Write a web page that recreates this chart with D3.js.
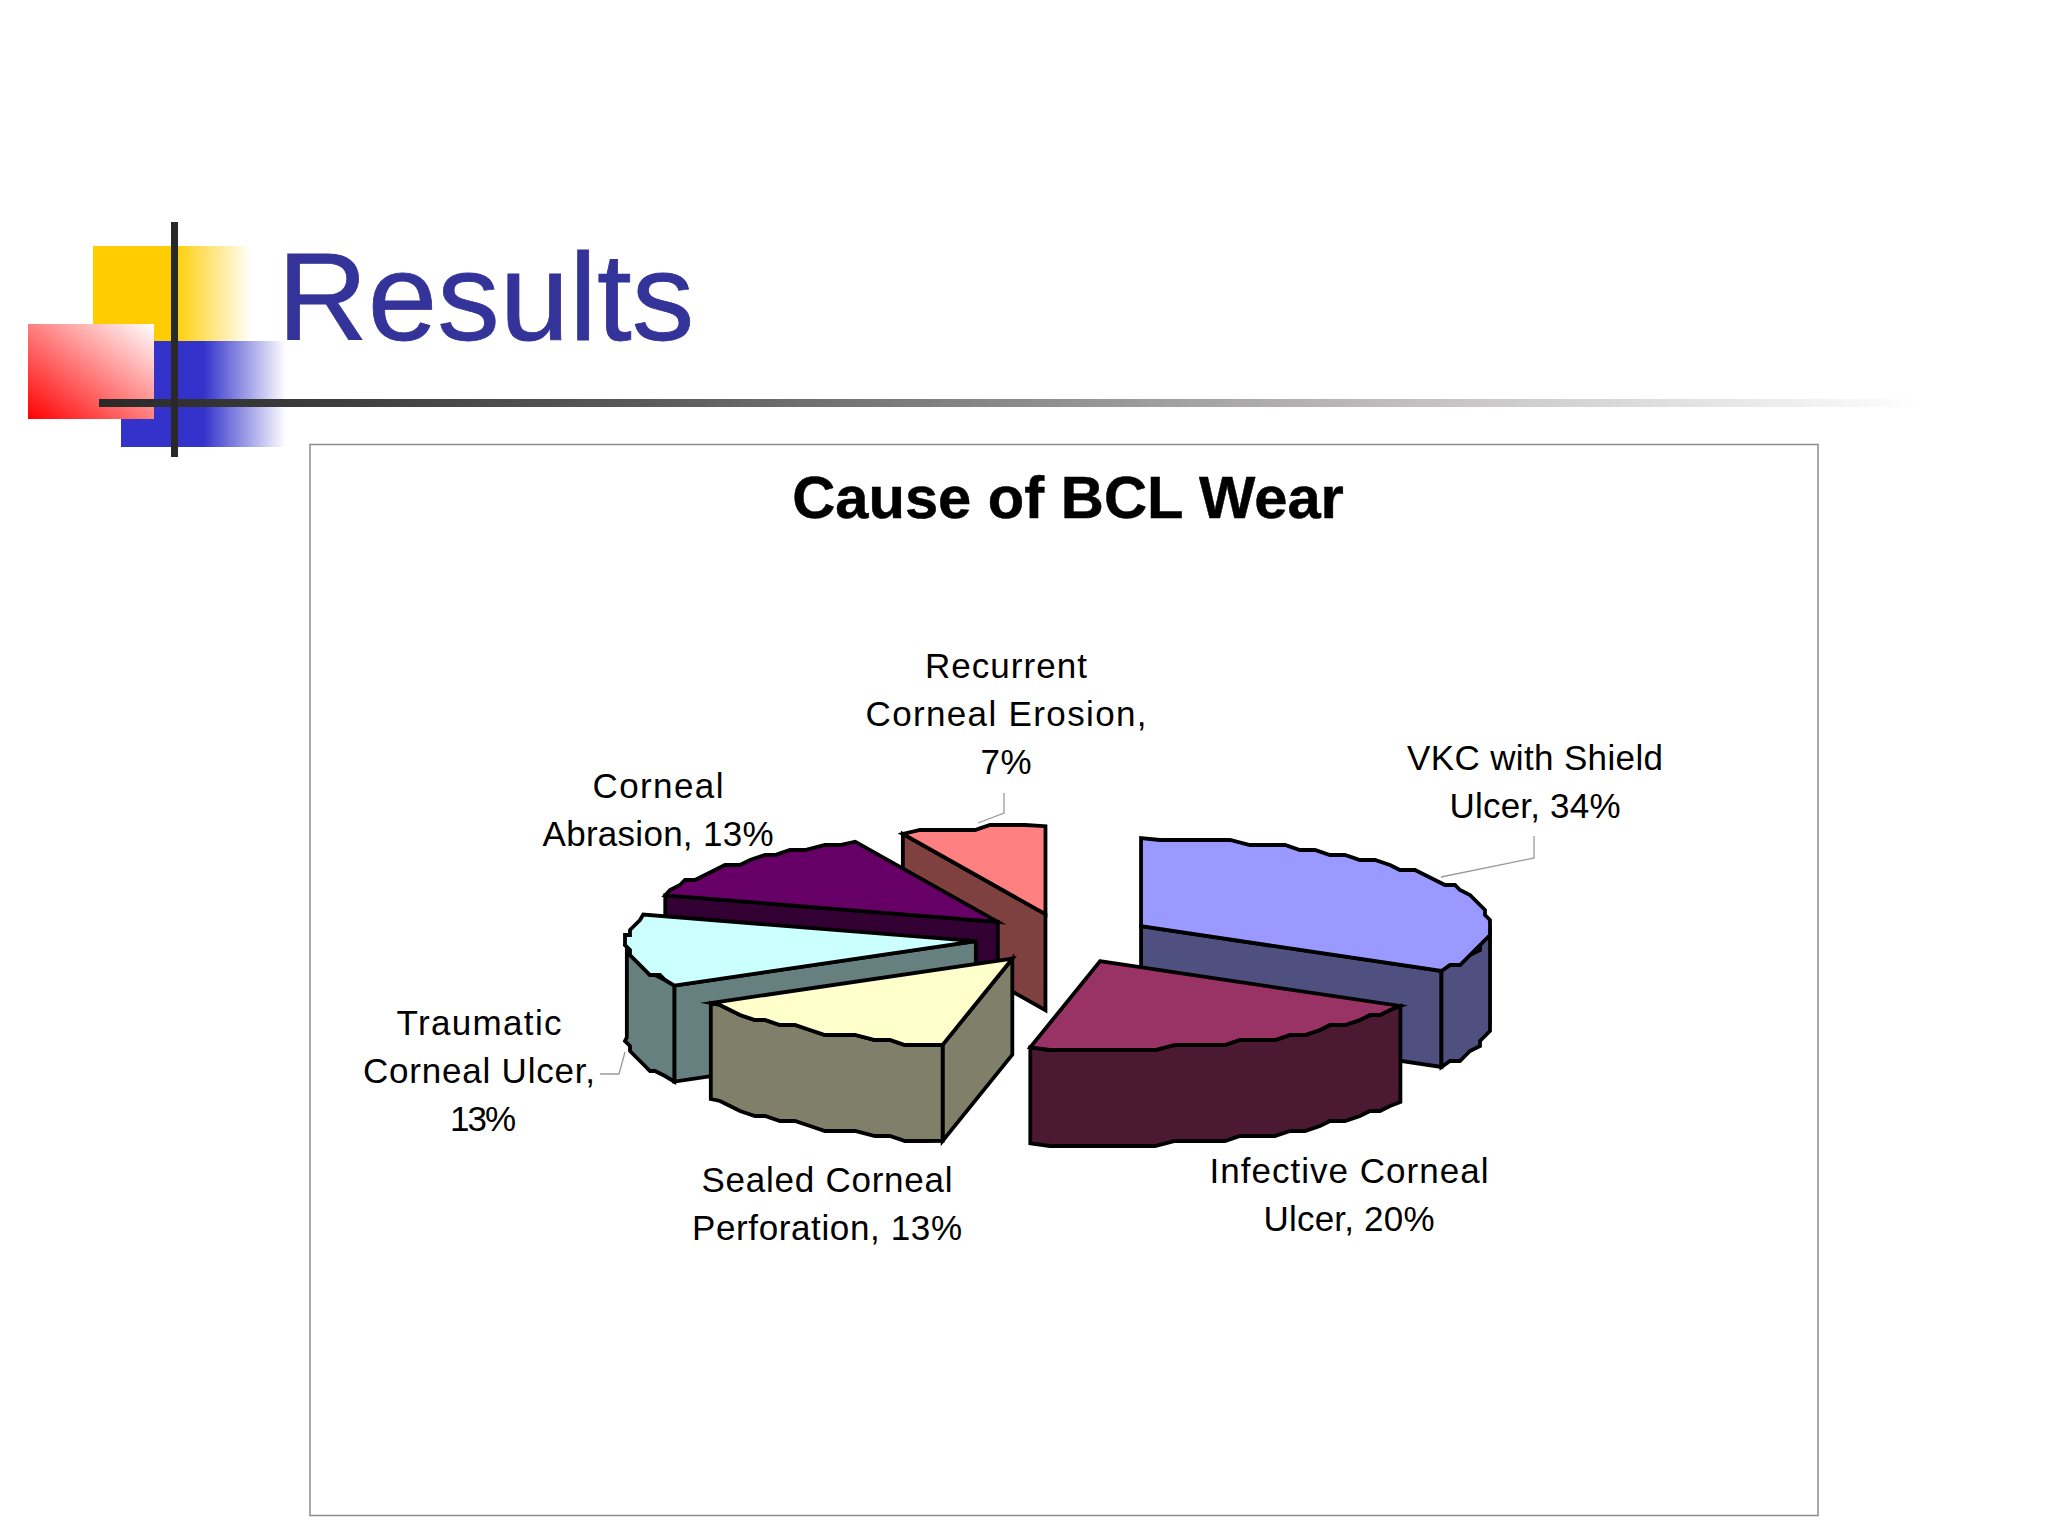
<!DOCTYPE html>
<html><head><meta charset="utf-8">
<style>html,body{margin:0;background:#fff}svg{display:block}text{font-family:"Liberation Sans",Arial,sans-serif}</style>
<script src="https://cdn.jsdelivr.net/npm/d3@7"></script></head>
<body><svg id="c" width="2048" height="1536"></svg>
<script>
// ---------- data ----------
const categories = ["VKC with Shield Ulcer","Infective Corneal Ulcer","Sealed Corneal Perforation","Traumatic Corneal Ulcer","Corneal Abrasion","Recurrent Corneal Erosion"];
const values = [33.5,19.7,13.4,13.3,13.4,6.7];
const labelLines = [["VKC with Shield","Ulcer, 34%"],["Infective Corneal","Ulcer, 20%"],["Sealed Corneal","Perforation, 13%"],["Traumatic","Corneal Ulcer,","13%"],["Corneal","Abrasion, 13%"],["Recurrent","Corneal Erosion,","7%"]];
const slideTitle = "Results";
const chartTitle = "Cause of BCL Wear";
// ---------- styling / layout ----------
const topColors  = ["#9999FF","#993366","#FFFFCC","#CCFFFF","#660066","#FF8080"];
const wallColors = ["#4F4F80","#4C1933","#80806A","#667F7F","#330033","#7F4040"];
const labelPos = [[1535,770],[1349,1183],[827,1191.5],[479,1035],[658,798],[1006,677.5]];
const labelWidths = [[256,171],[279,171],[251,270],[165,232,66],[131,231],[162,281,51]];
const leaders = [[[1534,836],[1534,858],[1441,877]],[],[],[[600,1074],[619,1074],[625,1052]],[],[[1004,793],[1004,813],[978,823]]];
const paintOrder = [5,4,0,3,1,2];
const cx=1064, cy=938.5, rx=349, ry=88, depth=96, explode=88.7, explodeK=0.28;

const svg=d3.select("#c"), defs=svg.append("defs");
function grad(id,x1,y1,x2,y2,stops){
  const g=defs.append("linearGradient").attr("id",id).attr("x1",x1).attr("y1",y1).attr("x2",x2).attr("y2",y2);
  stops.forEach(s=>g.append("stop").attr("offset",s[0]).attr("stop-color",s[1]));
}
grad("gy",0,0,1,0,[[0,"#FFCC00"],[.5,"#FFCC00"],[1,"#FFFFFF"]]);
grad("gb",0,0,1,0,[[0,"#3333CC"],[.5,"#3333CC"],[1,"#FFFFFF"]]);
grad("gr",0,1,1,0,[[0,"#FF0000"],[1,"#FFFFFF"]]);
grad("gl",0,0,1,0,[[0,"#292929"],[.3,"#5a5a5a"],[.7,"#bdbbbb"],[1,"#FFFFFF"]]);

// slide decoration
svg.append("rect").attr("x",93).attr("y",246).attr("width",159).attr("height",96).attr("fill","url(#gy)");
svg.append("rect").attr("x",121).attr("y",341).attr("width",165).attr("height",106).attr("fill","url(#gb)");
svg.append("rect").attr("x",28).attr("y",324).attr("width",126).attr("height",95).attr("fill","url(#gr)");
svg.append("rect").attr("x",99).attr("y",399).attr("width",1825).attr("height",8).attr("fill","url(#gl)");
svg.append("rect").attr("x",171).attr("y",222).attr("width",7).attr("height",235).attr("fill","#292929");
svg.append("text").attr("x",277.5).attr("y",340).attr("font-size",125).attr("fill","#333399").attr("stroke","#333399").attr("stroke-width",0.8).text(slideTitle);

// chart frame & title
svg.append("rect").attr("x",310).attr("y",444.5).attr("width",1508).attr("height",1071).attr("fill","#fff").attr("stroke","#8c8c8c").attr("stroke-width",1.5);
svg.append("text").attr("x",1068).attr("y",518).attr("text-anchor","middle").attr("font-size",59.7).attr("font-weight","bold").attr("fill","#000").attr("stroke","#000").attr("stroke-width",0.5).text(chartTitle);

// pie geometry from the data
const arcs=d3.pie().sort(null).value(d=>d)(values);
const line=d3.line();
const q=5;
function rim(c,a0,a1){
  const pts=[], step=3*Math.PI/180, n=Math.max(1,Math.round((a1-a0)/step));
  d3.range(n+1).forEach(i=>{
    const a=a0+(a1-a0)*i/n;
    let x=c[0]+rx*Math.sin(a), y=c[1]-ry*Math.cos(a);
    if(i>0&&i<n){x=Math.round(x/q)*q; y=Math.round(y/q)*q;}
    pts.push([x,y]);
  });
  return pts;
}
const down=p=>[p[0],p[1]+depth];
const g=svg.append("g").attr("stroke","#000").attr("stroke-width",3.8).attr("stroke-linejoin","miter").attr("stroke-miterlimit",8);
paintOrder.forEach(i=>{
  const d=arcs[i], mid=(d.startAngle+d.endAngle)/2;
  const c=[cx+explode*Math.sin(mid), cy-explode*explodeK*Math.cos(mid)];
  const sG=g.append("g").attr("class","slice");
  const edge=a=>[c[0]+rx*Math.sin(a), c[1]-ry*Math.cos(a)];
  // radial walls: only the one that faces the viewer
  const wallAngle = Math.sin(d.startAngle)<-1e-6 ? d.startAngle : (Math.sin(d.endAngle)>1e-6 ? d.endAngle : null);
  if(wallAngle!==null){
    const e=edge(wallAngle);
    sG.append("path").attr("fill",wallColors[i]).attr("d",line([c,e,down(e),down(c)])+"Z");
  }
  // outer wall (front half only)
  const a0=Math.max(d.startAngle,Math.PI/2), a1=Math.min(d.endAngle,3*Math.PI/2);
  if(a1>a0){
    const r=rim(c,a0,a1);
    sG.append("path").attr("fill",wallColors[i]).attr("d",line(r.concat(r.map(down).reverse()))+"Z");
  }
  // top face
  sG.append("path").attr("fill",topColors[i]).attr("d",line([c].concat(rim(c,d.startAngle,d.endAngle)))+"Z");
});

// leader lines
leaders.forEach(l=>{ if(l.length) svg.append("path").attr("d",line(l)).attr("fill","none").attr("stroke","#9a9a9a").attr("stroke-width",1.3); });
// labels
labelLines.forEach((lines,i)=>{
  lines.forEach((t,j)=>{
    svg.append("text").attr("x",labelPos[i][0]+(i===3&&j===2?4:0)).attr("y",labelPos[i][1]+j*48).attr("text-anchor","middle")
      .attr("font-size",35).attr("textLength",labelWidths[i][j]).attr("lengthAdjust","spacing").attr("fill","#000").text(t);
  });
});
</script></body></html>
